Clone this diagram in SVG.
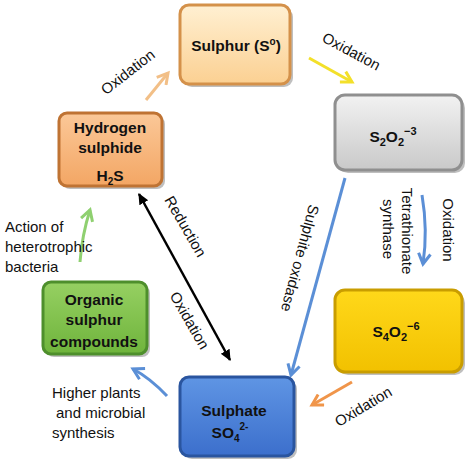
<svg xmlns="http://www.w3.org/2000/svg" width="474" height="467" viewBox="0 0 474 467">
<defs>
<linearGradient id="gSul" x1="0" y1="0" x2="0" y2="1"><stop offset="0" stop-color="#fff0d2"/><stop offset="1" stop-color="#fbd092"/></linearGradient>
<linearGradient id="gH2S" x1="0" y1="0" x2="0" y2="1"><stop offset="0" stop-color="#fbc898"/><stop offset="1" stop-color="#f3a664"/></linearGradient>
<linearGradient id="gGray" x1="0" y1="0" x2="0" y2="1"><stop offset="0" stop-color="#f2f2f2"/><stop offset="1" stop-color="#c9c9c9"/></linearGradient>
<linearGradient id="gYel" x1="0" y1="0" x2="0" y2="1"><stop offset="0" stop-color="#ffd81a"/><stop offset="1" stop-color="#f2c100"/></linearGradient>
<linearGradient id="gGrn" x1="0" y1="0" x2="0" y2="1"><stop offset="0" stop-color="#96d062"/><stop offset="1" stop-color="#6fb43c"/></linearGradient>
<linearGradient id="gBlu" x1="0" y1="0" x2="0" y2="1"><stop offset="0" stop-color="#5f95e4"/><stop offset="1" stop-color="#3c6fcc"/></linearGradient>
<marker id="aTan" viewBox="0 0 10 10" refX="8" refY="5" markerWidth="5" markerHeight="5" orient="auto"><path d="M1,1 L8,5 L1,9" fill="none" stroke="#f2bf87" stroke-width="2"/></marker>
<marker id="aYel" viewBox="0 0 10 10" refX="8" refY="5" markerWidth="5" markerHeight="5" orient="auto"><path d="M1,1 L8,5 L1,9" fill="none" stroke="#f3e02a" stroke-width="2"/></marker>
<marker id="aBlu" viewBox="0 0 10 10" refX="8" refY="5" markerWidth="5" markerHeight="5" orient="auto"><path d="M1,1 L8,5 L1,9" fill="none" stroke="#5b8fd6" stroke-width="2"/></marker>
<marker id="aBlk" viewBox="0 0 10 10" refX="8" refY="5" markerWidth="5" markerHeight="5" orient="auto-start-reverse"><path d="M0,1 L9,5 L0,9 Z" fill="#000"/></marker>
<marker id="aOrg" viewBox="0 0 10 10" refX="8" refY="5" markerWidth="5" markerHeight="5" orient="auto"><path d="M1,1 L8,5 L1,9" fill="none" stroke="#f0954a" stroke-width="2"/></marker>
<marker id="aGrn" viewBox="0 0 10 10" refX="8" refY="5" markerWidth="5" markerHeight="5" orient="auto"><path d="M1,1 L8,5 L1,9" fill="none" stroke="#8fd070" stroke-width="2"/></marker>
</defs>
<style>
.nt{font-family:"Liberation Sans",Arial,sans-serif;font-weight:bold;font-size:15.5px;fill:#111;text-anchor:middle}
.lb{font-family:"Liberation Sans",Arial,sans-serif;font-size:15px;fill:#111}
.sh{fill:#000;opacity:0.25}
.c{fill:none;stroke-width:3}
</style>
<rect width="474" height="467" fill="#fff"/>
<g id="connectors">
<line x1="146" y1="100" x2="168" y2="73" class="c" stroke="#f2bf87" marker-end="url(#aTan)"/>
<line x1="309" y1="58" x2="352" y2="82" class="c" stroke="#f3e02a" marker-end="url(#aYel)"/>
<path d="M422,195 Q428,230 423,264" class="c" stroke="#5b8fd6" marker-end="url(#aBlu)"/>
<line x1="345" y1="178" x2="291" y2="375" class="c" stroke="#5b8fd6" marker-end="url(#aBlu)"/>
<line x1="139" y1="194" x2="230" y2="360" stroke="#000" stroke-width="2.5" marker-start="url(#aBlk)" marker-end="url(#aBlk)"/>
<path d="M167,396 Q150,378 133,369" class="c" stroke="#5b8fd6" marker-end="url(#aBlu)"/>
<path d="M80,262 Q82,235 90,210" class="c" stroke="#8fd070" marker-end="url(#aGrn)"/>
<line x1="352" y1="382" x2="312" y2="405" class="c" stroke="#f0954a" marker-end="url(#aOrg)"/>
<text class="lb" transform="translate(131,76) rotate(-38)" text-anchor="middle">Oxidation</text>
<text class="lb" transform="translate(349,56) rotate(28)" text-anchor="middle">Oxidation</text>
<text class="lb" transform="translate(402,231) rotate(90)" text-anchor="middle">Tetrathionate</text>
<text class="lb" transform="translate(383,229) rotate(90)" text-anchor="middle">synthase</text>
<text class="lb" transform="translate(443,230) rotate(90)" text-anchor="middle">Oxidation</text>
<text class="lb" transform="translate(295,257) rotate(105)" text-anchor="middle">Sulphite oxidase</text>
<text class="lb" transform="translate(181,229) rotate(60)" text-anchor="middle">Reduction</text>
<text class="lb" transform="translate(185,323) rotate(60)" text-anchor="middle">Oxidation</text>
<text class="lb" transform="translate(366,411) rotate(-31)" text-anchor="middle">Oxidation</text>
<text class="lb" x="5" y="232">Action of</text>
<text class="lb" x="5" y="252">heterotrophic</text>
<text class="lb" x="5" y="272">bacteria</text>
<text class="lb" x="52" y="398">Higher plants</text>
<text class="lb" x="56" y="418">and microbial</text>
<text class="lb" x="52" y="438">synthesis</text>
</g>
<g id="sulphur">
<rect x="183" y="8" width="110" height="79" rx="9" class="sh"/>
<rect x="180" y="5" width="110" height="79" rx="9" fill="url(#gSul)" stroke="#d4914a" stroke-width="3"/>
<text class="nt" x="236" y="51">Sulphur (S<tspan dy="-6" font-size="10">o</tspan><tspan dy="6">)</tspan></text>
</g>
<g id="hydrogen-sulphide">
<rect x="62" y="116" width="103" height="73" rx="8" class="sh"/>
<rect x="59" y="113" width="103" height="73" rx="8" fill="url(#gH2S)" stroke="#bf7333" stroke-width="3"/>
<text class="nt" x="110" y="133">Hydrogen</text>
<text class="nt" x="110" y="153">sulphide</text>
<text class="nt" x="110" y="181">H<tspan dy="4" font-size="10">2</tspan><tspan dy="-4">S</tspan></text>
</g>
<g id="s2o2">
<rect x="338" y="98" width="127" height="75" rx="10" class="sh"/>
<rect x="335" y="95" width="127" height="75" rx="10" fill="url(#gGray)" stroke="#8f8f8f" stroke-width="3"/>
<text class="nt" x="393" y="142">S<tspan dy="4" font-size="11">2</tspan><tspan dy="-4">O</tspan><tspan dy="4" font-size="11">2</tspan><tspan dy="-11" font-size="11">−3</tspan></text>
</g>
<g id="s4o2">
<rect x="338" y="293" width="127" height="82" rx="10" class="sh"/>
<rect x="335" y="290" width="127" height="82" rx="10" fill="url(#gYel)" stroke="#c99d00" stroke-width="3"/>
<text class="nt" x="396" y="337">S<tspan dy="4" font-size="11">4</tspan><tspan dy="-4">O</tspan><tspan dy="4" font-size="11">2</tspan><tspan dy="-11" font-size="11">−6</tspan></text>
</g>
<g id="organic">
<rect x="46" y="285" width="104" height="72" rx="8" class="sh"/>
<rect x="43" y="282" width="104" height="72" rx="8" fill="url(#gGrn)" stroke="#4e8f2c" stroke-width="3"/>
<text class="nt" x="94" y="305">Organic</text>
<text class="nt" x="94" y="325">sulphur</text>
<text class="nt" x="94" y="347">compounds</text>
</g>
<g id="sulphate">
<rect x="183" y="380" width="114" height="79" rx="9" class="sh"/>
<rect x="180" y="377" width="114" height="79" rx="9" fill="url(#gBlu)" stroke="#2a559f" stroke-width="3"/>
<text class="nt" x="234" y="416">Sulphate</text>
<text class="nt" x="230" y="438">SO<tspan dy="4" font-size="10">4</tspan><tspan dy="-12" font-size="10">2-</tspan></text>
</g>
</svg>
